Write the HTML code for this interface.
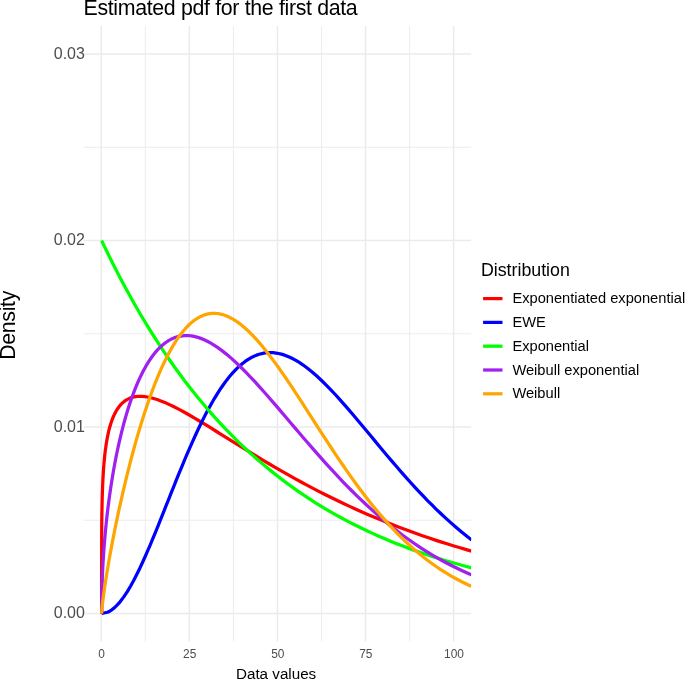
<!DOCTYPE html>
<html lang="en"><head><meta charset="utf-8"><title>Estimated pdf for the first data</title>
<style>html,body{margin:0;padding:0;background:#fff}body{width:685px;height:680px;overflow:hidden}svg{display:block}</style></head>
<body>
<svg width="685" height="680" viewBox="0 0 685 680">
<rect width="685" height="680" fill="#fff"/>
<defs><clipPath id="pc"><rect x="83.70" y="26.00" width="387.50" height="615.40"/></clipPath></defs>
<g stroke="#EBEBEB" fill="none" stroke-width="0.95">
<line x1="83.70" x2="471.20" y1="520.26" y2="520.26"/>
<line x1="83.70" x2="471.20" y1="333.80" y2="333.80"/>
<line x1="83.70" x2="471.20" y1="147.32" y2="147.32"/>
<line x1="145.34" x2="145.34" y1="26.00" y2="641.40"/>
<line x1="233.43" x2="233.43" y1="26.00" y2="641.40"/>
<line x1="321.52" x2="321.52" y1="26.00" y2="641.40"/>
<line x1="409.61" x2="409.61" y1="26.00" y2="641.40"/>
</g>
<g stroke="#EBEBEB" fill="none" stroke-width="1.5">
<line x1="83.70" x2="471.20" y1="613.50" y2="613.50"/>
<line x1="83.70" x2="471.20" y1="427.03" y2="427.03"/>
<line x1="83.70" x2="471.20" y1="240.56" y2="240.56"/>
<line x1="83.70" x2="471.20" y1="54.09" y2="54.09"/>
<line x1="101.30" x2="101.30" y1="26.00" y2="641.40"/>
<line x1="189.39" x2="189.39" y1="26.00" y2="641.40"/>
<line x1="277.47" x2="277.47" y1="26.00" y2="641.40"/>
<line x1="365.56" x2="365.56" y1="26.00" y2="641.40"/>
<line x1="453.65" x2="453.65" y1="26.00" y2="641.40"/>
</g>
<g clip-path="url(#pc)" fill="none" stroke-width="3.25" stroke-linejoin="round" stroke-linecap="butt"><g transform="translate(0.3 0)">
<path stroke="#FF0000" d="M101.30 613.50 L101.39 534.90 L101.48 523.26 L101.56 515.68 L101.74 505.26 L101.92 497.83 L102.18 489.45 L102.45 482.94 L102.80 476.00 L103.24 469.06 L103.77 462.33 L104.38 455.94 L105.09 449.92 L105.97 443.71 L107.03 437.61 L108.35 431.41 L109.40 427.27 L110.46 423.69 L111.52 420.57 L112.93 416.96 L114.34 413.88 L115.75 411.23 L117.16 408.93 L118.92 406.48 L120.68 404.42 L122.44 402.68 L124.56 400.97 L126.67 399.61 L129.14 398.37 L131.95 397.37 L135.13 396.67 L136.53 396.49 L138.30 396.35 L140.06 396.32 L141.82 396.37 L144.46 396.60 L147.11 397.00 L149.75 397.54 L153.27 398.45 L156.80 399.55 L161.20 401.16 L166.48 403.37 L172.65 406.26 L178.82 409.41 L184.10 412.28 L189.39 415.27 L194.67 418.35 L199.96 421.51 L205.24 424.72 L210.53 427.97 L215.81 431.25 L221.10 434.54 L226.38 437.84 L231.67 441.14 L236.95 444.44 L242.24 447.72 L247.53 450.98 L252.81 454.21 L258.10 457.42 L263.38 460.59 L268.67 463.74 L273.95 466.84 L279.24 469.91 L284.52 472.93 L289.81 475.92 L295.09 478.86 L300.38 481.75 L305.66 484.60 L311.83 487.87 L318.00 491.07 L324.16 494.21 L330.33 497.28 L336.49 500.30 L342.66 503.24 L348.83 506.12 L354.99 508.94 L361.16 511.70 L367.32 514.39 L373.49 517.02 L379.66 519.59 L385.82 522.10 L391.99 524.55 L398.15 526.94 L404.32 529.27 L410.49 531.54 L416.65 533.76 L422.82 535.92 L428.99 538.03 L435.15 540.09 L441.32 542.09 L447.48 544.05 L453.65 545.95 L459.82 547.80 L465.98 549.61 L471.27 551.12"/>
<path stroke="#0000FF" d="M101.30 613.50 L107.20 612.26 L109.40 611.17 L111.52 609.81 L113.98 607.87 L116.80 605.17 L119.97 601.56 L123.50 596.89 L127.02 591.56 L130.19 586.26 L133.36 580.51 L136.18 575.06 L139.18 568.95 L141.82 563.31 L144.46 557.48 L147.11 551.46 L149.75 545.29 L152.39 538.98 L155.03 532.56 L157.68 526.06 L160.32 519.48 L162.96 512.86 L165.60 506.21 L168.25 499.55 L170.89 492.90 L173.53 486.28 L176.17 479.71 L178.82 473.19 L181.46 466.76 L184.10 460.42 L186.74 454.18 L189.39 448.06 L192.03 442.07 L194.67 436.23 L197.32 430.53 L199.96 425.00 L203.48 417.89 L207.00 411.10 L210.53 404.66 L214.05 398.56 L217.58 392.83 L221.10 387.47 L223.74 383.70 L226.38 380.15 L229.03 376.82 L231.67 373.70 L234.31 370.81 L236.95 368.14 L239.60 365.68 L242.24 363.45 L244.88 361.43 L247.53 359.63 L249.29 358.54 L251.05 357.56 L252.81 356.66 L254.57 355.86 L256.33 355.15 L258.10 354.53 L259.86 353.99 L261.62 353.55 L263.38 353.19 L265.14 352.92 L266.90 352.74 L268.67 352.64 L270.43 352.62 L273.07 352.74 L275.71 353.03 L278.36 353.50 L281.00 354.13 L283.64 354.93 L286.28 355.88 L288.93 356.98 L291.57 358.22 L295.09 360.10 L298.62 362.21 L302.14 364.54 L306.54 367.74 L310.95 371.25 L316.23 375.81 L321.52 380.72 L325.92 385.05 L330.33 389.57 L334.73 394.26 L339.14 399.09 L343.54 404.05 L347.94 409.11 L352.35 414.25 L356.75 419.46 L361.16 424.72 L365.56 430.01 L369.97 435.32 L374.37 440.63 L378.78 445.93 L383.18 451.20 L387.58 456.44 L391.99 461.63 L396.39 466.77 L400.80 471.84 L405.20 476.84 L409.61 481.76 L414.01 486.60 L418.42 491.34 L422.82 495.98 L427.22 500.53 L431.63 504.97 L436.03 509.30 L440.44 513.52 L444.84 517.63 L450.13 522.41 L455.41 527.03 L460.70 531.48 L465.98 535.76 L471.27 539.88"/>
<path stroke="#00FF00" d="M101.30 240.56 L103.94 246.11 L106.59 251.58 L109.40 257.33 L112.22 262.98 L115.04 268.54 L117.86 274.02 L120.68 279.41 L123.50 284.71 L126.67 290.58 L129.84 296.34 L133.01 301.99 L136.18 307.55 L140.06 314.21 L143.58 320.14 L147.11 325.94 L150.63 331.64 L154.15 337.22 L157.68 342.69 L161.20 348.05 L164.72 353.31 L168.25 358.46 L171.77 363.51 L175.29 368.46 L179.70 374.51 L184.10 380.41 L188.51 386.17 L192.91 391.78 L197.32 397.25 L201.72 402.59 L206.12 407.80 L210.53 412.88 L214.93 417.83 L219.34 422.66 L223.74 427.38 L228.15 431.97 L232.55 436.45 L236.95 440.82 L241.36 445.09 L245.76 449.25 L251.05 454.10 L256.33 458.81 L261.62 463.38 L266.90 467.82 L272.19 472.12 L277.47 476.30 L282.76 480.36 L288.05 484.29 L293.33 488.11 L298.62 491.82 L303.90 495.41 L309.19 498.90 L314.47 502.29 L319.76 505.58 L325.04 508.77 L330.33 511.86 L335.61 514.87 L340.90 517.78 L347.06 521.07 L353.23 524.25 L359.40 527.32 L365.56 530.29 L371.73 533.15 L377.89 535.91 L384.06 538.58 L390.23 541.16 L396.39 543.65 L402.56 546.05 L408.73 548.37 L414.89 550.61 L421.06 552.77 L427.22 554.86 L433.39 556.88 L439.56 558.82 L445.72 560.70 L451.89 562.52 L458.05 564.27 L464.22 565.97 L470.39 567.60 L471.27 567.83"/>
<path stroke="#A020F0" d="M101.30 613.50 L101.39 600.99 L101.56 591.84 L101.74 585.53 L102.00 578.13 L102.27 572.03 L102.62 565.09 L102.97 559.03 L103.41 552.30 L103.85 546.26 L104.38 539.67 L104.91 533.64 L105.53 527.16 L106.14 521.15 L106.85 514.77 L107.55 508.80 L108.35 502.51 L109.40 494.70 L110.46 487.44 L111.52 480.65 L112.58 474.25 L113.63 468.21 L115.04 460.63 L116.45 453.53 L117.86 446.86 L119.27 440.57 L120.68 434.61 L122.44 427.61 L124.20 421.04 L125.96 414.87 L127.73 409.07 L129.84 402.55 L131.95 396.49 L134.07 390.84 L136.53 384.73 L138.30 380.67 L140.06 376.84 L141.82 373.24 L143.58 369.85 L145.34 366.66 L147.11 363.67 L148.87 360.87 L150.63 358.25 L152.39 355.81 L154.15 353.53 L155.91 351.41 L157.68 349.45 L159.44 347.64 L161.20 345.97 L162.96 344.45 L164.72 343.06 L166.48 341.80 L168.25 340.67 L170.01 339.67 L171.77 338.78 L173.53 338.01 L175.29 337.35 L177.06 336.80 L178.82 336.36 L180.58 336.02 L182.34 335.78 L184.10 335.63 L185.86 335.58 L187.63 335.61 L189.39 335.74 L191.15 335.95 L193.79 336.42 L196.43 337.07 L199.08 337.88 L201.72 338.85 L204.36 339.98 L207.00 341.25 L210.53 343.16 L214.05 345.30 L217.58 347.65 L221.98 350.86 L226.38 354.36 L231.67 358.88 L236.95 363.73 L241.36 367.99 L245.76 372.42 L250.17 377.01 L254.57 381.72 L258.98 386.56 L263.38 391.48 L267.79 396.49 L272.19 401.56 L276.59 406.68 L281.00 411.83 L285.40 417.00 L289.81 422.19 L294.21 427.37 L298.62 432.54 L303.02 437.69 L307.42 442.81 L311.83 447.89 L316.23 452.92 L320.64 457.90 L325.04 462.82 L329.45 467.67 L333.85 472.45 L338.26 477.15 L342.66 481.77 L347.06 486.31 L351.47 490.76 L355.87 495.12 L360.28 499.38 L364.68 503.55 L369.97 508.43 L375.25 513.16 L380.54 517.75 L385.82 522.20 L391.11 526.50 L396.39 530.65 L401.68 534.67 L406.96 538.53 L412.25 542.26 L417.53 545.84 L422.82 549.29 L428.10 552.59 L433.39 555.77 L438.68 558.81 L443.96 561.72 L450.13 564.96 L456.29 568.04 L462.46 570.95 L468.62 573.71 L471.27 574.85"/>
<path stroke="#FFA500" d="M101.30 613.50 L101.83 607.06 L102.53 600.83 L103.33 594.65 L104.21 588.34 L105.18 581.85 L106.14 575.68 L107.20 569.24 L108.26 563.05 L109.40 556.56 L110.81 548.85 L112.22 541.40 L113.63 534.18 L115.04 527.17 L116.45 520.33 L117.86 513.67 L119.27 507.17 L120.68 500.82 L122.09 494.61 L123.50 488.54 L124.91 482.60 L126.67 475.36 L128.43 468.30 L130.19 461.44 L131.95 454.76 L133.72 448.25 L135.48 441.92 L137.42 435.16 L139.18 429.18 L140.94 423.38 L143.58 414.98 L146.22 406.95 L148.87 399.28 L151.51 391.96 L154.15 385.00 L156.80 378.39 L159.44 372.13 L162.08 366.21 L164.72 360.62 L167.37 355.38 L170.01 350.46 L172.65 345.88 L175.29 341.61 L177.94 337.67 L179.70 335.22 L181.46 332.91 L183.22 330.73 L184.98 328.70 L186.74 326.79 L188.51 325.02 L190.27 323.38 L192.03 321.88 L193.79 320.50 L195.55 319.25 L197.32 318.12 L199.08 317.12 L200.84 316.24 L202.60 315.48 L204.36 314.83 L206.12 314.31 L207.89 313.90 L209.65 313.60 L211.41 313.41 L213.17 313.33 L214.93 313.36 L216.69 313.50 L218.46 313.73 L220.22 314.07 L221.98 314.50 L223.74 315.04 L225.50 315.66 L227.27 316.38 L229.03 317.19 L231.67 318.57 L234.31 320.14 L236.95 321.90 L239.60 323.83 L242.24 325.93 L245.76 328.98 L249.29 332.30 L252.81 335.87 L257.21 340.66 L261.62 345.79 L266.02 351.23 L270.43 356.93 L274.83 362.88 L278.36 367.78 L281.88 372.81 L285.40 377.94 L288.93 383.16 L292.45 388.46 L295.97 393.81 L299.50 399.22 L303.02 404.67 L306.54 410.14 L310.07 415.62 L313.59 421.11 L317.11 426.59 L320.64 432.05 L324.16 437.49 L327.68 442.89 L331.21 448.25 L334.73 453.56 L338.26 458.81 L341.78 464.00 L345.30 469.11 L348.83 474.15 L352.35 479.11 L355.87 483.98 L360.28 489.94 L364.68 495.75 L369.09 501.40 L373.49 506.90 L377.89 512.23 L382.30 517.39 L386.70 522.38 L391.11 527.20 L395.51 531.85 L399.92 536.32 L404.32 540.62 L408.73 544.75 L414.01 549.48 L419.30 553.96 L424.58 558.21 L429.87 562.22 L435.15 566.01 L440.44 569.58 L445.72 572.93 L451.01 576.07 L456.29 579.02 L462.46 582.22 L468.62 585.17 L471.27 586.36"/>
</g></g>
<g font-family="Liberation Sans, Arial, Helvetica, sans-serif">
<text x="83.5" y="15.2" font-size="21.33" textLength="274.2" lengthAdjust="spacing" fill="#000">Estimated pdf for the first data</text>
<g font-size="16" fill="#4D4D4D" text-anchor="end">
<text x="84.9" y="618.30">0.00</text>
<text x="84.9" y="431.83">0.01</text>
<text x="84.9" y="245.36">0.02</text>
<text x="84.9" y="58.89">0.03</text>
</g>
<g font-size="11.9" fill="#4D4D4D" text-anchor="middle">
<text x="101.60" y="657.9">0</text>
<text x="189.69" y="657.9">25</text>
<text x="277.77" y="657.9">50</text>
<text x="365.86" y="657.9">75</text>
<text x="453.95" y="657.9">100</text>
</g>
<text x="276.1" y="679.2" font-size="15.2" fill="#000" text-anchor="middle">Data values</text>
<text transform="translate(14.5 359.8) rotate(-90)" font-size="21.33" textLength="69.2" lengthAdjust="spacing" fill="#000">Density</text>
<text x="480.9" y="275.8" font-size="17.8" fill="#000">Distribution</text>
<g font-size="14.67" fill="#000">
<text x="512.4" y="303.10">Exponentiated exponential</text>
<text x="512.4" y="326.90">EWE</text>
<text x="512.4" y="350.70">Exponential</text>
<text x="512.4" y="374.50">Weibull exponential</text>
<text x="512.4" y="398.30">Weibull</text>
</g>
</g>
<g fill="none" stroke-width="3.25">
<line x1="483.1" x2="502.5" y1="298.60" y2="298.60" stroke="#FF0000"/>
<line x1="483.1" x2="502.5" y1="322.40" y2="322.40" stroke="#0000FF"/>
<line x1="483.1" x2="502.5" y1="346.20" y2="346.20" stroke="#00FF00"/>
<line x1="483.1" x2="502.5" y1="370.00" y2="370.00" stroke="#A020F0"/>
<line x1="483.1" x2="502.5" y1="393.80" y2="393.80" stroke="#FFA500"/>
</g>
</svg>
</body></html>
